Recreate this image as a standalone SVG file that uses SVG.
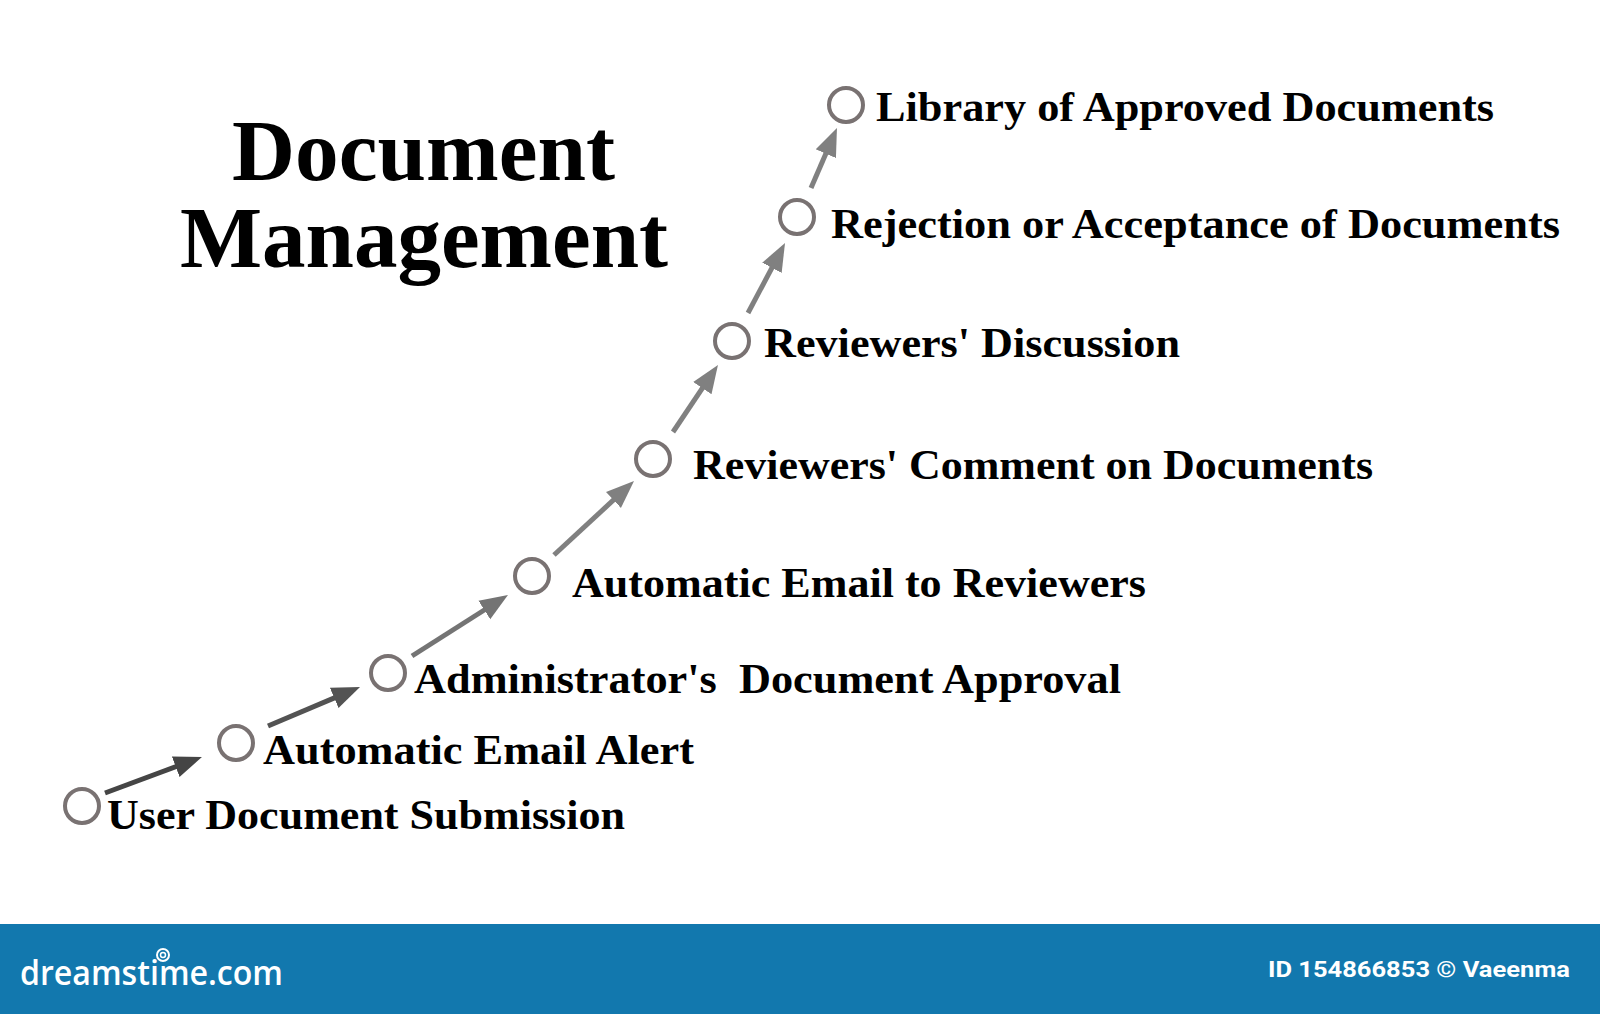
<svg xmlns="http://www.w3.org/2000/svg" width="1600" height="1014" viewBox="0 0 1600 1014">
<style>
.bg{fill:#ffffff}
.title{font-family:"Liberation Serif","Times New Roman",serif;font-weight:bold;font-size:86px;fill:#000}
.lbl{font-family:"Liberation Serif","Times New Roman",serif;font-weight:bold;font-size:42px;fill:#000;white-space:pre}
.ring{fill:#ffffff;stroke:#797272;stroke-width:4}
.arr{fill:none;stroke-width:5;stroke-linecap:butt}
.a1{stroke:#454545}.a2{stroke:#535353}.a3{stroke:#747474}.a4{stroke:#808080}
.bar{fill:#1278ae}
.brand{font-family:"Open Sans","DejaVu Sans",sans-serif;font-weight:600;font-size:34px;fill:#fff}
.credit{font-family:Roboto,"Liberation Sans",sans-serif;font-weight:bold;font-size:22px;fill:#fff}
</style>
<defs>
<marker id="h1" markerUnits="userSpaceOnUse" markerWidth="30" markerHeight="24" viewBox="0 -12 30 24" refX="13" refY="0" orient="auto"><path d="M0,-11 L28,0 L0,11 z" fill="#454545"/></marker>
<marker id="h2" markerUnits="userSpaceOnUse" markerWidth="30" markerHeight="24" viewBox="0 -12 30 24" refX="13" refY="0" orient="auto"><path d="M0,-11 L28,0 L0,11 z" fill="#535353"/></marker>
<marker id="h3" markerUnits="userSpaceOnUse" markerWidth="30" markerHeight="24" viewBox="0 -12 30 24" refX="13" refY="0" orient="auto"><path d="M0,-11 L28,0 L0,11 z" fill="#747474"/></marker>
<marker id="h4" markerUnits="userSpaceOnUse" markerWidth="30" markerHeight="24" viewBox="0 -12 30 24" refX="13" refY="0" orient="auto"><path d="M0,-11 L28,0 L0,11 z" fill="#808080"/></marker>
</defs>
<rect class="bg" x="0" y="0" width="1600" height="1014"/>
<g id="title">
<text class="title" x="232" y="180" textLength="383" lengthAdjust="spacingAndGlyphs">Document</text>
<text class="title" x="180" y="267" textLength="488" lengthAdjust="spacingAndGlyphs">Management</text>
</g>
<g id="connectors">
<line class="arr a1" x1="105" y1="793" x2="187.9" y2="762.2" marker-end="url(#h1)"/>
<line class="arr a2" x1="268" y1="726" x2="346.2" y2="692.9" marker-end="url(#h2)"/>
<line class="arr a3" x1="412" y1="656" x2="495.3" y2="603" marker-end="url(#h3)"/>
<line class="arr a4" x1="554" y1="555" x2="623" y2="491.2" marker-end="url(#h4)"/>
<line class="arr a4" x1="673" y1="432" x2="709.6" y2="377.4" marker-end="url(#h4)"/>
<line class="arr a4" x1="748" y1="313" x2="778" y2="256.3" marker-end="url(#h4)"/>
<line class="arr a4" x1="811" y1="188" x2="831" y2="141.8" marker-end="url(#h4)"/>
</g>
<g id="n1"><circle class="ring" cx="82" cy="806" r="17"/><text class="lbl" x="107" y="829" textLength="518" lengthAdjust="spacingAndGlyphs">User Document Submission</text></g>
<g id="n2"><circle class="ring" cx="236" cy="743" r="17"/><text class="lbl" x="263" y="764" textLength="431" lengthAdjust="spacingAndGlyphs">Automatic Email Alert</text></g>
<g id="n3"><circle class="ring" cx="388" cy="673" r="17"/><text class="lbl" x="414" y="693" textLength="707" lengthAdjust="spacingAndGlyphs">Administrator's  Document Approval</text></g>
<g id="n4"><circle class="ring" cx="532" cy="576" r="17"/><text class="lbl" x="572" y="597" textLength="574" lengthAdjust="spacingAndGlyphs">Automatic Email to Reviewers</text></g>
<g id="n5"><circle class="ring" cx="653" cy="459" r="17"/><text class="lbl" x="693" y="479" textLength="680" lengthAdjust="spacingAndGlyphs">Reviewers' Comment on Documents</text></g>
<g id="n6"><circle class="ring" cx="732" cy="341" r="17"/><text class="lbl" x="764" y="357" textLength="416" lengthAdjust="spacingAndGlyphs">Reviewers' Discussion</text></g>
<g id="n7"><circle class="ring" cx="797" cy="217" r="17"/><text class="lbl" x="831" y="238" textLength="729" lengthAdjust="spacingAndGlyphs">Rejection or Acceptance of Documents</text></g>
<g id="n8"><circle class="ring" cx="846" cy="105" r="17"/><text class="lbl" x="876" y="121" textLength="618" lengthAdjust="spacingAndGlyphs">Library of Approved Documents</text></g>
<g id="footer">
<rect class="bar" x="0" y="924" width="1600" height="90"/>
<text class="brand" x="20" y="985" textLength="263" lengthAdjust="spacingAndGlyphs">dreamstime.com</text>
<circle cx="163" cy="955" r="6" fill="none" stroke="#fff" stroke-width="2"/>
<circle cx="163" cy="955" r="2.5" fill="none" stroke="#fff" stroke-width="1.5"/>
<text class="credit" x="1268" y="977" textLength="302" lengthAdjust="spacingAndGlyphs">ID 154866853 © Vaeenma</text>
</g>
</svg>
